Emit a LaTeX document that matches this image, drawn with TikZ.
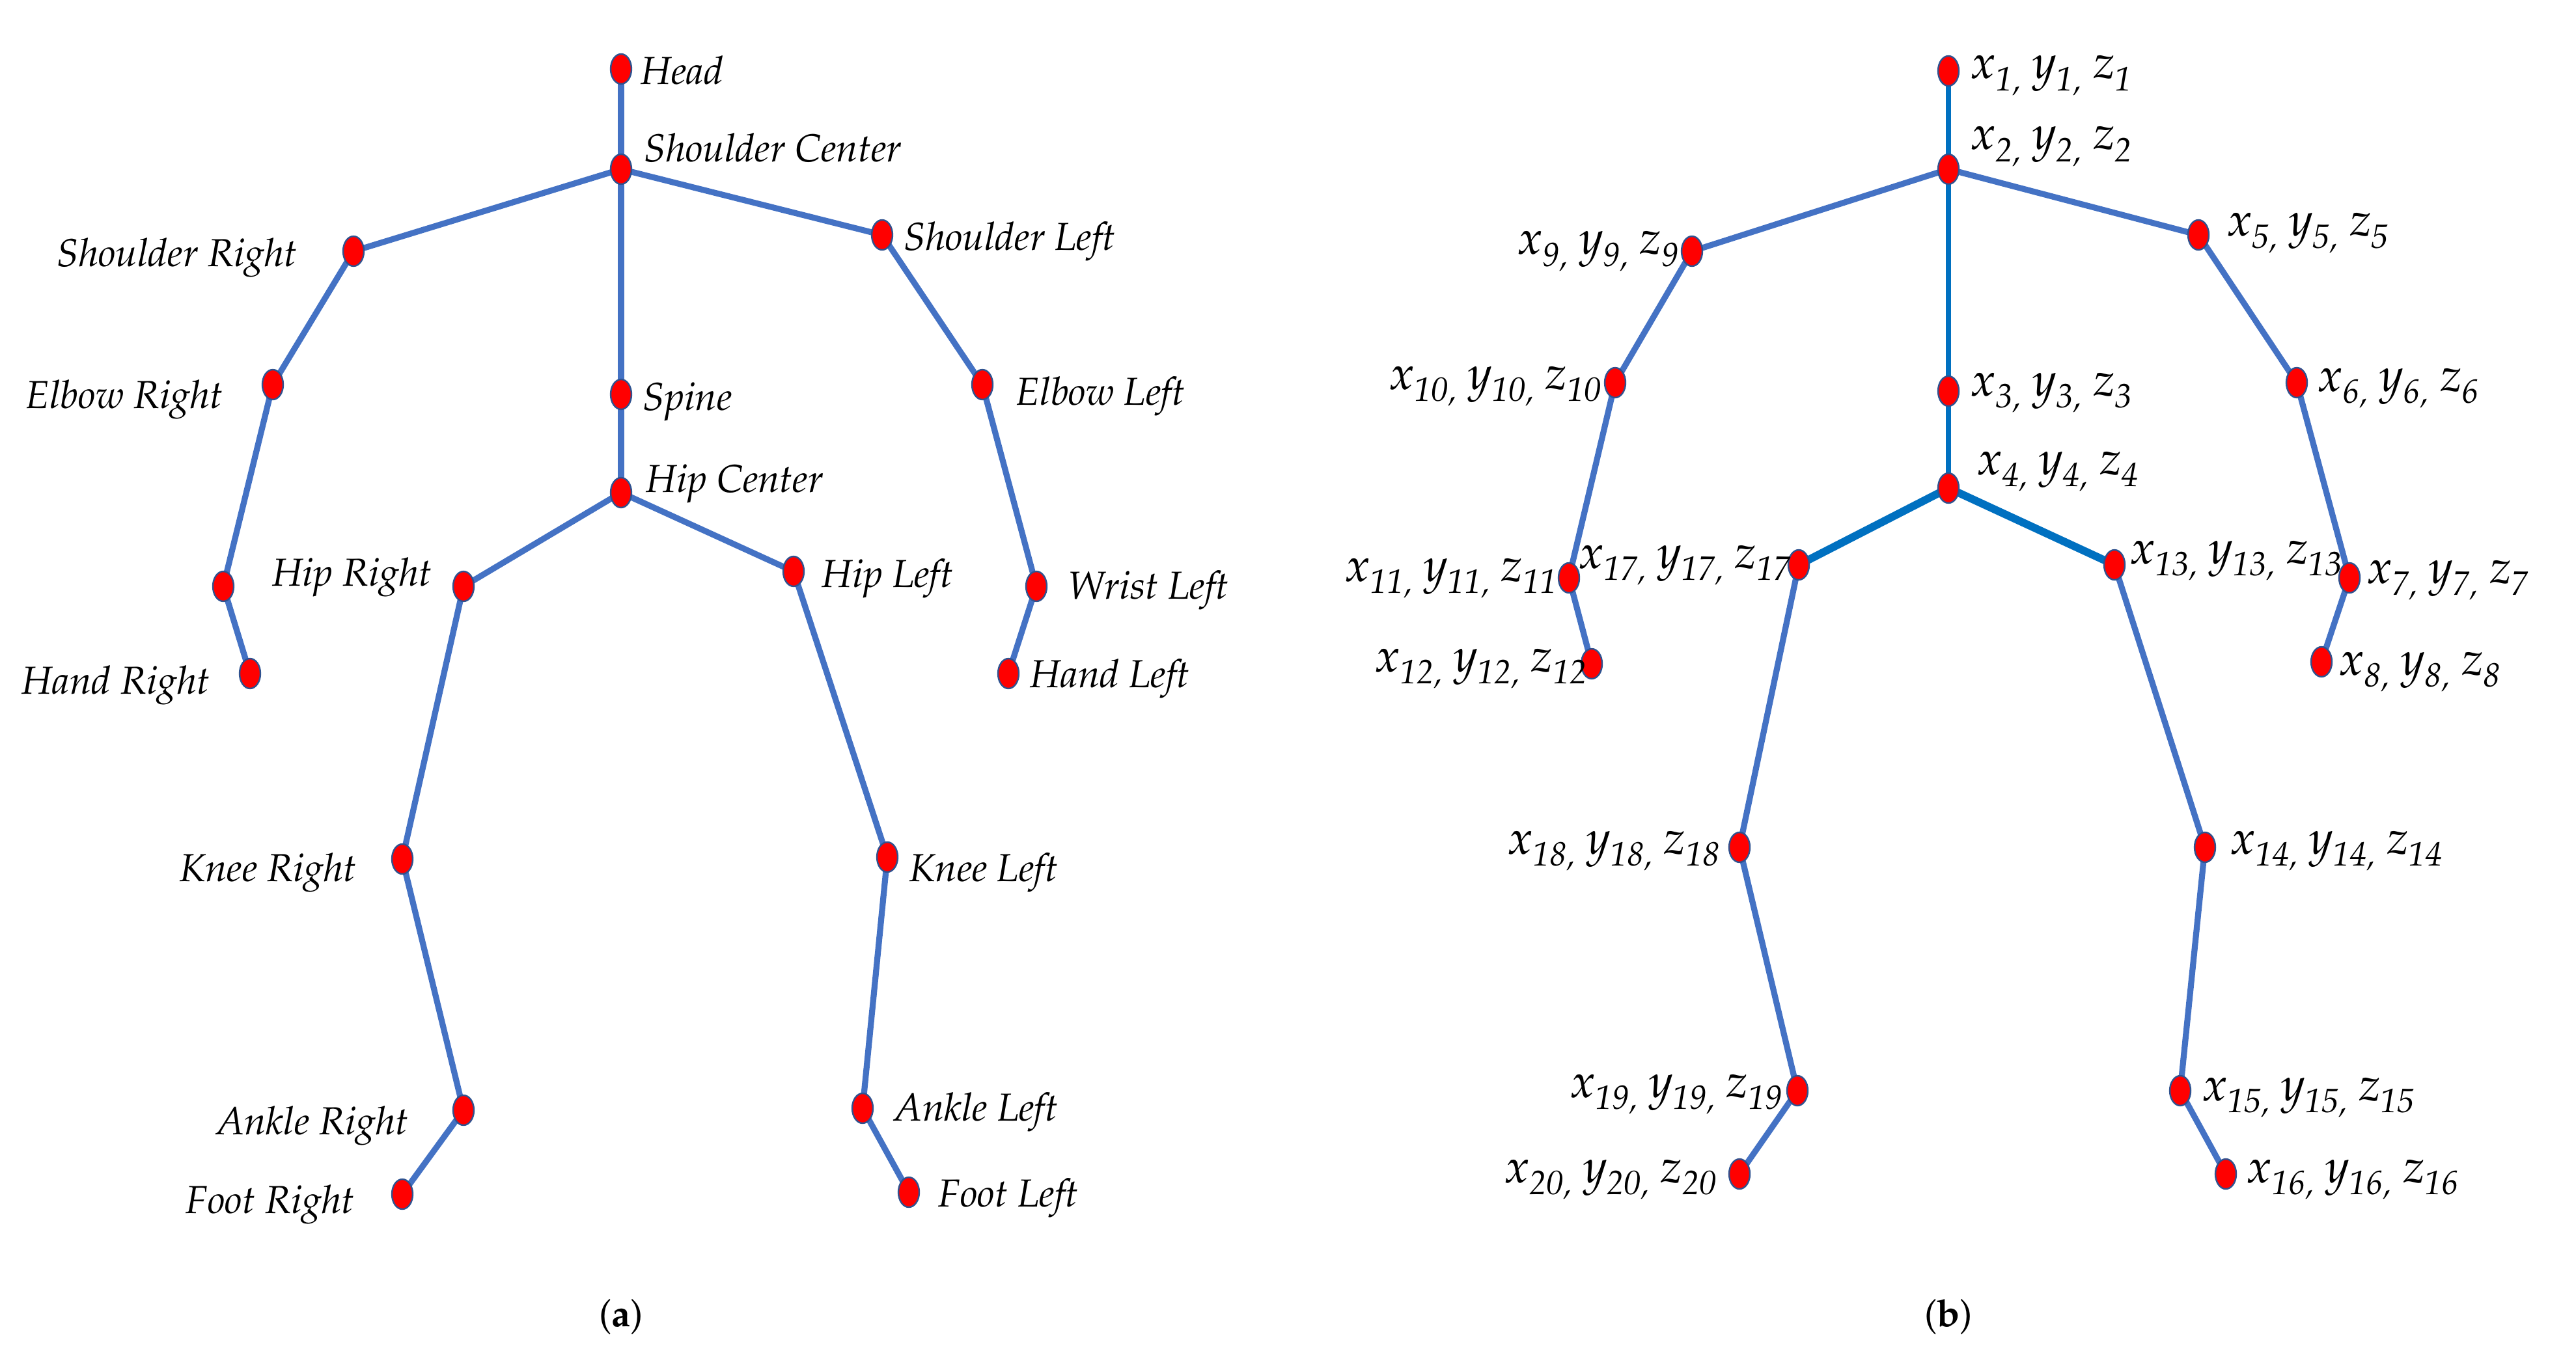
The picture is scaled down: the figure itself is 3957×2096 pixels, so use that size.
\documentclass[tikz,border=0pt]{standalone}
\usepackage[T1]{fontenc}
\usepackage{mathpazo}
\usetikzlibrary{shapes.geometric}
\definecolor{lineblue}{HTML}{4472C4}
\definecolor{darkblue}{HTML}{0070C0}
\definecolor{jointred}{HTML}{FF0000}
\definecolor{rimblue}{HTML}{2F528F}
\pgfdeclarelayer{background}
\pgfsetlayers{background,main}
\newcommand{\sbs}[1]{\raisebox{-0.25em}{\fontsize{13}{14}\selectfont #1}}
\newcommand{\xyz}[1]{x\sbs{#1,}\ y\sbs{#1,}\ z\sbs{#1}}
\begin{document}
\begin{tikzpicture}[x=0.25pt,y=-0.25pt,
  joint/.style={ellipse, fill=jointred, draw=rimblue, line width=0.6pt, minimum width=8pt, minimum height=11.5pt, inner sep=0pt},
  bone/.style={lineblue, line width=2.3pt},
  spinebone/.style={darkblue, line width=1.8pt},
  hipbone/.style={darkblue, line width=3pt},
  lbl/.style={font=\fontsize{15}{17}\selectfont\itshape, inner sep=0pt, text height=0.7em, text depth=0.25em},
  coord/.style={font=\fontsize{18.2}{20}\selectfont\itshape, inner sep=0pt, text height=0.6em, text depth=0.35em},
  captxt/.style={font=\fontsize{14.5}{17}\selectfont, inner sep=0pt}]
\useasboundingbox (0,0) rectangle (3957,2096);
% ---------- (a) ----------
\node[joint] (head) at (954,106) {};
\node[joint] (sc) at (954,260) {};
\node[joint] (sr) at (543,386) {};
\node[joint] (sl) at (1355,361) {};
\node[joint] (er) at (419,591) {};
\node[joint] (el) at (1509,591) {};
\node[joint] (spine) at (954,606) {};
\node[joint] (hc) at (954,757) {};
\node[joint] (hipr) at (712,901) {};
\node[joint] (hipl) at (1219,878) {};
\node[joint] (wr) at (343,901) {};
\node[joint] (wl) at (1592,901) {};
\node[joint] (hr) at (384,1035) {};
\node[joint] (hl) at (1549,1035) {};
\node[joint] (kr) at (618,1320) {};
\node[joint] (kl) at (1363,1317) {};
\node[joint] (ar) at (712,1706) {};
\node[joint] (al) at (1325,1703) {};
\node[joint] (fr) at (618,1835) {};
\node[joint] (fl) at (1396,1832) {};
\begin{pgfonlayer}{background}
\foreach \a/\b in {head/sc, sc/sr, sc/sl, sc/spine, spine/hc, sr/er, er/wr, wr/hr, sl/el, el/wl, wl/hl, hc/hipr, hc/hipl, hipr/kr, kr/ar, ar/fr, hipl/kl, kl/al, al/fl}
  \draw[bone] (\a.center) -- (\b.center);
\end{pgfonlayer}
\node[lbl, anchor=west] (t-head) at (984,121) {Head};
\node[lbl, anchor=west] (t-sc) at (989,240) {Shoulder Center};
\node[lbl, anchor=east] (t-sr) at (457,401) {Shoulder Right};
\node[lbl, anchor=west] (t-sl) at (1388,376) {Shoulder Left};
\node[lbl, anchor=east] (t-er) at (343,618) {Elbow Right};
\node[lbl, anchor=west] (t-spine) at (987,621) {Spine};
\node[lbl, anchor=west] (t-el) at (1560,613) {Elbow Left};
\node[lbl, anchor=west] (t-hc) at (992,747) {Hip Center};
\node[lbl, anchor=east] (t-hipr) at (664,891) {Hip Right};
\node[lbl, anchor=west] (t-hipl) at (1262,893) {Hip Left};
\node[lbl, anchor=west] (t-wl) at (1640,911) {Wrist Left};
\node[lbl, anchor=east] (t-hr) at (323,1057) {Hand Right};
\node[lbl, anchor=west] (t-hl) at (1582,1047) {Hand Left};
\node[lbl, anchor=east] (t-kr) at (548,1345) {Knee Right};
\node[lbl, anchor=west] (t-kl) at (1396,1345) {Knee Left};
\node[lbl, anchor=east] (t-ar) at (628,1734) {Ankle Right};
\node[lbl, anchor=west] (t-al) at (1373,1713) {Ankle Left};
\node[lbl, anchor=east] (t-fr) at (545,1855) {Foot Right};
\node[lbl, anchor=west] (t-fl) at (1441,1845) {Foot Left};
\node[captxt] (capa) at (954,2024) {(\textbf{a})};
% ---------- (b) ----------
\node[joint] (j1) at (2993,109) {};
\node[joint] (j2) at (2993,260) {};
\node[joint] (j9) at (2599,386) {};
\node[joint] (j5) at (3377,361) {};
\node[joint] (j10) at (2481,588) {};
\node[joint] (j6) at (3528,588) {};
\node[joint] (j3) at (2993,601) {};
\node[joint] (j4) at (2993,750) {};
\node[joint] (j17) at (2763,868) {};
\node[joint] (j13) at (3248,868) {};
\node[joint] (j11) at (2410,888) {};
\node[joint] (j12) at (2445,1020) {};
\node[joint] (j7) at (3609,888) {};
\node[joint] (j8) at (3566,1017) {};
\node[joint] (j18) at (2672,1302) {};
\node[joint] (j14) at (3387,1302) {};
\node[joint] (j19) at (2761,1676) {};
\node[joint] (j15) at (3349,1676) {};
\node[joint] (j20) at (2672,1804) {};
\node[joint] (j16) at (3419,1804) {};
\begin{pgfonlayer}{background}
\foreach \a/\b in {j2/j9, j2/j5, j9/j10, j10/j11, j11/j12, j5/j6, j6/j7, j7/j8, j17/j18, j18/j19, j19/j20, j13/j14, j14/j15, j15/j16}
  \draw[bone] (\a.center) -- (\b.center);
\foreach \a/\b in {j1/j2, j2/j3, j3/j4}
  \draw[spinebone] (\a.center) -- (\b.center);
\foreach \a/\b in {j4/j17, j4/j13}
  \draw[hipbone] (\a.center) -- (\b.center);
\end{pgfonlayer}
\node[coord, anchor=west] (t1) at (3028,116) {\xyz{1}};
\node[coord, anchor=west] (t2) at (3028,225) {\xyz{2}};
\node[coord, anchor=east] (t9) at (2579,386) {\xyz{9}};
\node[coord, anchor=west] (t5) at (3422,358) {\xyz{5}};
\node[coord, anchor=east] (t10) at (2460,593) {\xyz{10}};
\node[coord, anchor=west] (t6) at (3561,596) {\xyz{6}};
\node[coord, anchor=west] (t3) at (3028,603) {\xyz{3}};
\node[coord, anchor=west] (t4) at (3038,724) {\xyz{4}};
\node[coord, anchor=east] (t11) at (2392,888) {\xyz{11}};
\node[coord, anchor=east] (t17) at (2751,868) {\xyz{17}};
\node[coord, anchor=west] (t13) at (3273,861) {\xyz{13}};
\node[coord, anchor=west] (t7) at (3637,891) {\xyz{7}};
\node[coord, anchor=east] (t12) at (2438,1027) {\xyz{12}};
\node[coord, anchor=west] (t8) at (3594,1032) {\xyz{8}};
\node[coord, anchor=east] (t18) at (2642,1307) {\xyz{18}};
\node[coord, anchor=west] (t14) at (3427,1307) {\xyz{14}};
\node[coord, anchor=east] (t19) at (2738,1681) {\xyz{19}};
\node[coord, anchor=west] (t15) at (3384,1686) {\xyz{15}};
\node[coord, anchor=east] (t20) at (2637,1812) {\xyz{20}};
\node[coord, anchor=west] (t16) at (3452,1812) {\xyz{16}};
\node[captxt] (capb) at (2993,2024) {(\textbf{b})};
\end{tikzpicture}
\end{document}
